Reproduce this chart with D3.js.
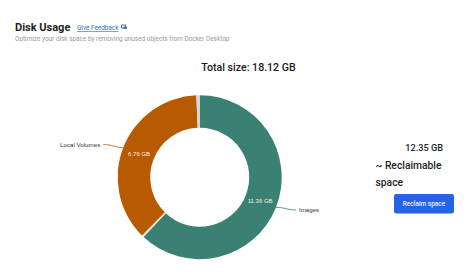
<!DOCTYPE html>
<html>
<head>
<meta charset="utf-8">
<script src="https://cdn.jsdelivr.net/npm/d3@7"></script>
<style>
  html, body { margin: 0; padding: 0; background: #fff; overflow: hidden; }
</style>
</head>
<body>
<div id="my_dataviz"></div>
<script>
var categories = ["Images", "Containers", "Local Volumes", "Build Cache"];
var sizes = [11.36, 0.08, 6.76, 0.12];
var sliceColors = ["#3a8073", "#e6e2d3", "#b85a00", "#d5d7e0"];
var sliceLabels = ["11.36 GB", "", "6.76 GB", ""];
var calloutNames = ["Images", "", "Local Volumes", ""];

var fontFamily = "Roboto";
var width = 474, height = 272;
var centerX = 199.7, centerY = 177.2;
var outerRadius = 82, innerRadius = 49.5;

var svg = d3.select("#my_dataviz")
  .append("svg")
    .attr("width", width)
    .attr("height", height)
    .style("display", "block")
    .attr("font-family", fontFamily);

// header
svg.append("text").attr("x", 15).attr("y", 31)
  .attr("font-size", 11).attr("font-weight", 700).attr("fill", "#1b1f24")
  .text("Disk Usage");
svg.append("text").attr("x", 77).attr("y", 30)
  .attr("font-size", 6.4).attr("fill", "#2f6fc4")
  .attr("text-decoration", "underline")
  .text("Give Feedback");
// feedback icon
svg.append("rect").attr("x", 121.5).attr("y", 25).attr("width", 4).attr("height", 3)
  .attr("fill", "none").attr("stroke", "#4b6f9e").attr("stroke-width", 0.9);
svg.append("rect").attr("x", 123.5).attr("y", 26.5).attr("width", 3.5).attr("height", 2.5)
  .attr("fill", "#4b6f9e");
svg.append("text").attr("x", 15).attr("y", 41)
  .attr("font-size", 6.42).attr("fill", "#959ba1")
  .text("Optimize your disk space by removing unused objects from Docker Desktop");

svg.append("text").attr("x", 248.5).attr("y", 71)
  .attr("text-anchor", "middle")
  .attr("font-size", 10.6).attr("font-weight", 500).attr("fill", "#17191c")
  .text("Total size: 18.12 GB");

// donut
var pie = d3.pie().sort(null).value(function(d) { return d; });
var arc = d3.arc().innerRadius(innerRadius).outerRadius(outerRadius);
var slices = pie(sizes);

var g = svg.append("g")
  .attr("transform", "translate(" + centerX + "," + centerY + ")");

g.selectAll("path.slice")
  .data(slices)
  .enter()
  .append("path")
    .attr("class", "slice")
    .attr("d", arc)
    .attr("fill", function(d, i) { return sliceColors[i]; });

// value labels, sit near the outer part of the ring
var labelArc = d3.arc().innerRadius(65).outerRadius(65);
g.selectAll("text.value")
  .data(slices)
  .enter()
  .append("text")
    .attr("class", "value")
    .attr("transform", function(d) { return "translate(" + labelArc.centroid(d) + ")"; })
    .attr("text-anchor", "middle")
    .attr("dy", "0.35em")
    .attr("font-size", 6)
    .attr("font-family", "Liberation Sans")
    .attr("fill", "#f3eee6")
    .text(function(d, i) { return sliceLabels[i]; });

// callouts
var line = d3.line().curve(d3.curveBumpX);
slices.forEach(function(d, i) {
  if (!calloutNames[i]) return;
  var a = (d.startAngle + d.endAngle) / 2;
  var sx = outerRadius * Math.sin(a), sy = -outerRadius * Math.cos(a);
  var side = sx > 0 ? 1 : -1;
  var ex = sx + side * 20, ey = sy + (sy > 0 ? 2.5 : -3);
  g.append("path")
    .attr("d", line([[sx, sy], [ex, ey]]))
    .attr("fill", "none")
    .attr("stroke", sliceColors[i])
    .attr("stroke-width", 0.8);
  g.append("text")
    .attr("x", ex + side * 3)
    .attr("y", ey)
    .attr("dy", "0.35em")
    .attr("text-anchor", side > 0 ? "start" : "end")
    .attr("font-size", 6.2)
    .attr("font-family", "Liberation Sans")
    .attr("fill", "#30343a")
    .text(calloutNames[i]);
});

// right side panel
svg.append("text").attr("x", 443).attr("y", 150.5)
  .attr("text-anchor", "end")
  .attr("font-size", 9.2).attr("font-weight", 500).attr("fill", "#1b1f24")
  .text("12.35 GB");
svg.append("text").attr("x", 375.5).attr("y", 169)
  .attr("font-size", 10.3).attr("font-weight", 500).attr("fill", "#1b1f24")
  .text("~ Reclaimable");
svg.append("text").attr("x", 375.5).attr("y", 186)
  .attr("font-size", 10.3).attr("font-weight", 500).attr("fill", "#1b1f24")
  .text("space");
svg.append("rect").attr("x", 394).attr("y", 194).attr("width", 60).attr("height", 19.5)
  .attr("rx", 2).attr("fill", "#2563e6");
svg.append("text").attr("x", 424).attr("y", 204).attr("dy", "0.35em")
  .attr("text-anchor", "middle")
  .attr("font-size", 6.5).attr("font-weight", 500).attr("fill", "#e8eefc")
  .text("Reclaim space");
</script>
</body>
</html>
